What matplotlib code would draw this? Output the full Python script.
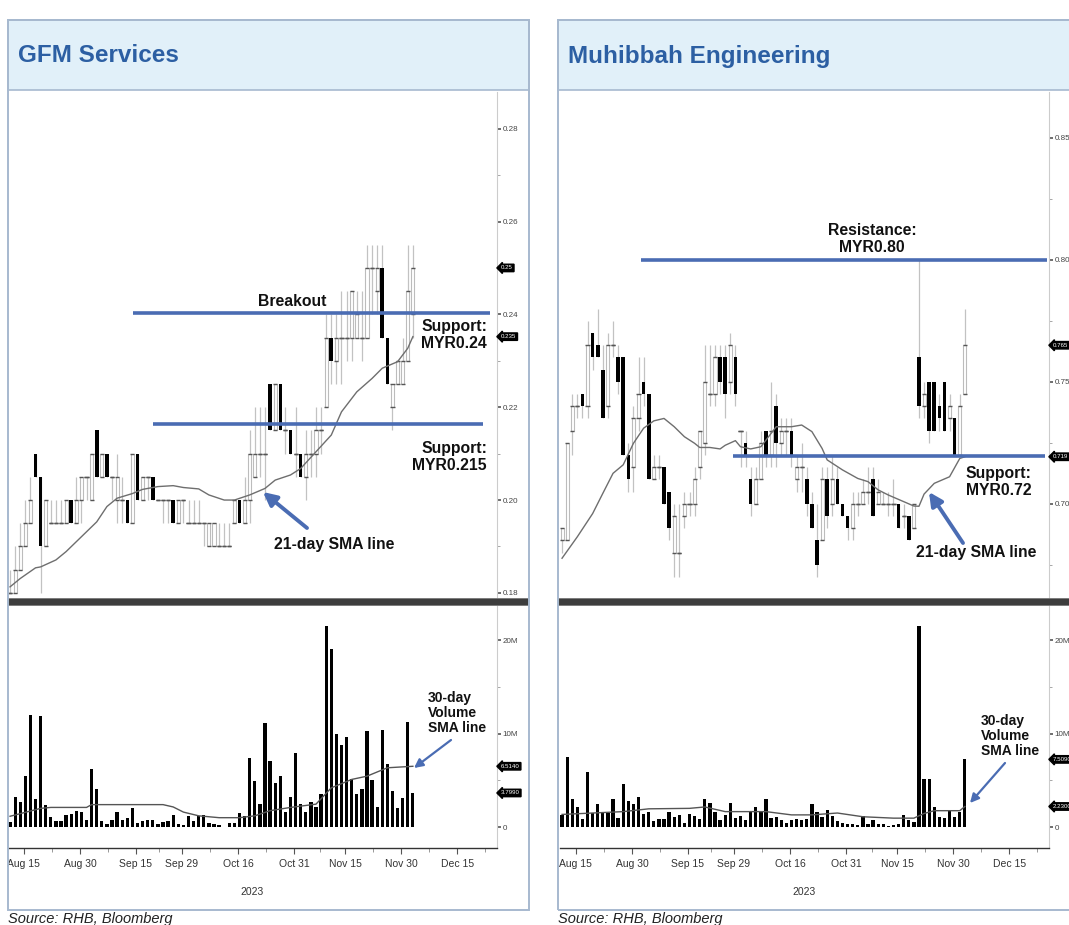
import numpy as np
import matplotlib
matplotlib.use("Agg")
import matplotlib.pyplot as plt
from matplotlib.patches import Rectangle, FancyArrowPatch
from matplotlib.ticker import FixedLocator, FuncFormatter
import matplotlib.transforms as mtransforms

# ---------------- data ----------------
date_labels = ['Aug 15', 'Aug 30', 'Sep 15', 'Sep 29', 'Oct 16', 'Oct 31', 'Nov 15', 'Nov 30', 'Dec 15']
date_index = [3, 14, 25, 34, 45, 56, 66, 77, 88]
year_label = '2023'

# GFM Services OHLC (80 trading days)
gfm_open = [.18, .18, .185, .19, .195, .21, .205, .19, .195, .195, .195, .195, .20, .195, .20, .205, .20, .215, .205, .21,
            .205, .20, .20, .20, .195, .21, .20, .205, .205, .20, .20, .20, .20, .195, .20, .195, .195, .195, .195, .19,
            .19, .19, .19, .19, .195, .20, .195, .20, .205, .21, .21, .225, .215, .225, .215, .215, .21, .21, .205, .21,
            .21, .215, .22, .235, .23, .235, .235, .235, .235, .235, .235, .25, .245, .25, .235, .22, .225, .225, .23, .24]
gfm_high = [.185, .19, .195, .20, .205, .21, .205, .20, .20, .20, .20, .20, .20, .205, .205, .205, .21, .215, .21, .21,
            .205, .21, .205, .20, .21, .21, .205, .205, .205, .20, .20, .20, .20, .20, .20, .20, .20, .20, .195, .195,
            .195, .195, .195, .195, .20, .20, .205, .215, .22, .22, .22, .225, .225, .225, .22, .215, .22, .21, .215, .215,
            .22, .22, .24, .24, .24, .245, .245, .245, .245, .245, .255, .255, .255, .255, .235, .225, .23, .235, .255, .255]
gfm_low = [.18, .18, .185, .19, .195, .205, .18, .19, .195, .195, .195, .195, .195, .195, .195, .20, .20, .205, .205, .205,
           .20, .195, .195, .195, .195, .20, .20, .20, .20, .20, .195, .195, .195, .195, .195, .195, .195, .195, .19, .19,
           .19, .19, .19, .19, .195, .195, .195, .195, .205, .205, .20, .215, .215, .215, .21, .21, .205, .205, .20, .205,
           .205, .21, .22, .225, .225, .225, .23, .23, .235, .23, .235, .24, .24, .235, .225, .215, .225, .225, .23, .235]
gfm_close = [.18, .185, .19, .195, .20, .205, .19, .20, .195, .195, .195, .20, .195, .20, .205, .205, .21, .205, .21, .205,
             .205, .205, .20, .195, .21, .20, .205, .205, .20, .20, .20, .20, .195, .20, .20, .195, .195, .195, .195, .195,
             .195, .19, .19, .19, .20, .195, .20, .21, .21, .21, .21, .215, .225, .215, .215, .21, .21, .205, .21, .21,
             .215, .215, .235, .23, .235, .235, .235, .245, .24, .235, .25, .25, .25, .235, .225, .225, .23, .23, .245, .25]
gfm_volume = [0.5, 3.2, 2.7, 5.5, 12.0, 3.0, 11.9, 2.4, 1.1, 0.65,
              0.65, 1.25, 1.35, 1.75, 1.6, 0.8, 6.2, 4.1, 0.65, 0.3,
              0.8, 1.65, 0.8, 0.95, 2.0, 0.4, 0.65, 0.8, 0.8, 0.3,
              0.55, 0.65, 1.25, 0.3, 0.2, 1.15, 0.65, 1.15, 1.25, 0.4,
              0.3, 0.2, 0.05, 0.4, 0.4, 1.5, 1.15, 7.4, 4.9, 2.5,
              11.1, 7.1, 4.7, 5.5, 1.65, 3.2, 7.9, 2.5, 1.65, 2.7,
              2.15, 3.55, 21.6, 19.1, 10.0, 8.8, 9.7, 5.1, 3.55, 4.1,
              10.25, 5.0, 2.15, 10.4, 6.75, 3.9, 2.0, 3.1, 11.3, 3.65]
gfm_sma_idx = [0, 2, 5, 6, 9, 11, 14, 17, 19, 21, 24, 26, 29, 32, 34, 37, 39, 42, 44, 47, 50, 52, 55, 57, 60, 63, 65, 68, 71, 73, 76, 78, 79]
gfm_sma = [0.1813, 0.1831, 0.1854, 0.1856, 0.1871, 0.1889, 0.1921, 0.1953, 0.1986, 0.2004, 0.2014, 0.2023, 0.2029, 0.2031,
           0.2027, 0.2024, 0.2011, 0.2000, 0.2000, 0.2011, 0.2025, 0.2043, 0.2054, 0.2068, 0.2104, 0.2140, 0.2190, 0.2233,
           0.2262, 0.2284, 0.2298, 0.2327, 0.2352]
gfm_vsma_idx = [0, 6, 8, 15, 16, 19, 30, 32, 34, 37, 41, 45, 48, 51, 55, 60, 63, 67, 70, 74, 79]
gfm_vsma = [1.15, 2.0, 2.1, 2.1, 2.4, 2.4, 2.4, 2.15, 1.6, 1.2, 1.0, 1.0, 1.2, 1.75, 2.1, 2.45, 4.2, 5.1, 5.45, 6.35, 6.51]
gfm_breakout = 0.2403
gfm_support = 0.2163
gfm_price_tags = ['0.25', '0.235']        # last close, last SMA
gfm_vol_tags = ['3.7990', '6.5140']       # last volume, last volume SMA

# Muhibbah Engineering OHLC (80 trading days)
muh_open = [.685, .685, .73, .74, .745, .74, .77, .765, .755, .74, .765, .76, .76, .72, .715, .735, .75, .745, .71, .715,
            .715, .705, .68, .68, .695, .70, .70, .715, .725, .745, .745, .76, .76, .75, .76, .73, .725, .71, .70, .71,
            .73, .72, .74, .725, .73, .73, .71, .715, .71, .70, .685, .685, .71, .70, .71, .70, .695, .69, .70, .70,
            .705, .71, .70, .70, .70, .70, .70, .695, .695, .69, .76, .74, .75, .75, .74, .75, .735, .735, .72, .745]
muh_high = [.69, .725, .745, .745, .745, .775, .77, .78, .765, .77, .775, .765, .76, .725, .74, .76, .76, .745, .72, .72,
            .715, .705, .70, .70, .705, .705, .715, .73, .765, .765, .765, .765, .765, .77, .765, .73, .73, .715, .715, .73,
            .73, .75, .745, .735, .735, .735, .72, .725, .715, .705, .70, .715, .715, .72, .715, .70, .695, .705, .705, .71,
            .715, .715, .71, .705, .705, .71, .70, .70, .695, .70, .80, .75, .75, .75, .745, .75, .745, .735, .745, .78]
muh_low = [.68, .685, .72, .735, .735, .735, .755, .76, .735, .735, .76, .745, .72, .705, .705, .73, .74, .71, .71, .71,
           .70, .685, .67, .67, .69, .695, .695, .71, .72, .74, .74, .745, .735, .745, .74, .715, .715, .695, .70, .71,
           .715, .715, .715, .72, .72, .715, .705, .705, .695, .69, .67, .685, .69, .695, .70, .695, .685, .685, .695, .70,
           .70, .695, .70, .70, .695, .695, .69, .69, .685, .69, .735, .735, .725, .73, .73, .73, .73, .72, .72, .745]
muh_close = [.69, .725, .74, .74, .74, .765, .76, .76, .735, .765, .765, .75, .72, .71, .735, .745, .745, .71, .715, .715,
             .70, .69, .695, .68, .70, .70, .71, .73, .75, .745, .76, .75, .745, .765, .745, .73, .72, .70, .71, .725,
             .72, .73, .725, .73, .73, .72, .715, .715, .70, .69, .675, .71, .695, .71, .70, .695, .69, .70, .70, .705,
             .705, .695, .705, .70, .70, .70, .69, .695, .685, .70, .74, .745, .73, .73, .735, .73, .74, .72, .74, .765]
muh_volume = [1.3, 7.5, 3.0, 2.1, 0.9, 5.9, 1.5, 2.5, 1.5, 1.5,
              3.0, 1.0, 4.6, 2.8, 2.5, 3.2, 1.4, 1.6, 0.6, 0.9,
              0.9, 1.6, 1.1, 1.3, 0.45, 1.4, 1.2, 0.9, 3.0, 2.6,
              1.65, 0.7, 1.3, 2.6, 1.0, 1.2, 0.7, 1.6, 2.15, 1.6,
              3.0, 1.0, 1.1, 0.7, 0.45, 0.7, 0.9, 0.75, 0.9, 2.5,
              1.65, 1.1, 1.8, 1.2, 0.6, 0.45, 0.3, 0.3, 0.2, 1.2,
              0.3, 0.7, 0.3, 0.35, 0.15, 0.2, 0.35, 1.3, 0.8, 0.5,
              21.6, 5.2, 5.2, 2.1, 1.1, 1.0, 1.75, 1.1, 1.65, 7.25]
muh_sma_idx = [0, 3, 6, 8, 10, 12, 14, 16, 18, 20, 22, 24, 26, 27, 29, 31, 32, 34, 35, 37, 39, 42, 45, 47, 49, 51, 52, 55,
               58, 60, 62, 64, 67, 69, 70, 71, 73, 76, 78, 79]
muh_sma = [0.6777, 0.6865, 0.6960, 0.7043, 0.7125, 0.7160, 0.7248, 0.7310, 0.7340, 0.7350, 0.7316, 0.7275, 0.7248, 0.7231,
           0.7231, 0.7225, 0.7240, 0.7259, 0.7234, 0.7225, 0.7234, 0.7316, 0.7316, 0.7323, 0.7296, 0.7227, 0.7180, 0.7139,
           0.7104, 0.7091, 0.7057, 0.7036, 0.7009, 0.6991, 0.6990, 0.7040, 0.7084, 0.7111, 0.7186, 0.7193]
muh_vsma_idx = [0, 6, 12, 17, 25, 28, 32, 36, 40, 45, 49, 54, 59, 65, 69, 71, 73, 78, 79]
muh_vsma = [1.35, 1.5, 1.65, 1.95, 2.0, 2.15, 1.65, 1.65, 1.65, 1.3, 1.3, 1.5, 1.1, 0.95, 0.95, 1.45, 1.75, 1.75, 2.2]
muh_resistance = 0.80
muh_support = 0.7196
muh_price_tags = ['0.765', '0.719']
muh_vol_tags = ['7.5090', '2.2300']

# ---------------- style ----------------
W, H = 1069, 925
BLUE = '#4a6cb3'
TITLE_BLUE = '#2c5fa3'
FRAME = '#a7b9cf'
ARIAL = ['Liberation Sans', 'DejaVu Sans']
NARROW = ['Liberation Sans Narrow', 'Liberation Sans', 'DejaVu Sans']
plt.rcParams['font.family'] = ARIAL


def fx(px):
    return px / W


def fy(py):
    return 1 - py / H


fig = plt.figure(figsize=(W / 100, H / 100), dpi=100)
fig.patch.set_facecolor('white')


def panel(x0, x1, title):
    fig.patches.append(Rectangle((fx(x0), fy(90)), fx(x1 - x0), 70 / H, transform=fig.transFigure,
                                 facecolor='#e1f0f9', edgecolor=FRAME, lw=1.2, zorder=0))
    fig.patches.append(Rectangle((fx(x0), fy(910)), fx(x1 - x0), 890 / H, transform=fig.transFigure,
                                 facecolor='none', edgecolor=FRAME, lw=1.4, zorder=5))
    fig.text(fx(x0 + 10), fy(56), title, color=TITLE_BLUE, fontsize=17.5, fontweight='bold',
             va='center', ha='left', family=ARIAL)
    fig.patches.append(Rectangle((fx(x0), fy(605)), fx(x1 - x0 - 1), 7 / H, transform=fig.transFigure,
                                 facecolor='#3d3d3d', edgecolor='#777777', lw=0.6, zorder=4))
    fig.text(fx(x0), fy(923), 'Source: RHB, Bloomberg', fontsize=10.5, style='italic',
             ha='left', va='baseline', color='#222222')


def candles(ax, o, h, l, c):
    o, h, l, c = map(np.asarray, (o, h, l, c))
    x = np.arange(len(o))
    ax.vlines(x, l, h, color='#c2c2c2', lw=0.9, zorder=2)
    up = c >= o
    dn = ~up
    ax.bar(x[up], (c - o)[up], bottom=o[up], width=0.6, facecolor='white', edgecolor='#bcbcbc',
           lw=0.8, zorder=3)
    ax.hlines(o[up], x[up] - 0.4, x[up] + 0.4, color='#555555', lw=1.0, zorder=4)
    ax.hlines(c[up], x[up] - 0.4, x[up] + 0.4, color='#555555', lw=1.0, zorder=4)
    ax.bar(x[dn], (o - c)[dn], bottom=c[dn], width=0.7, color='black', lw=0, zorder=4)


def tag(ax, val, txt):
    tr = mtransforms.blended_transform_factory(ax.transAxes, ax.transData)
    ax.text(1.008, val, txt, transform=tr, fontsize=4.4, color='white', ha='left', va='center',
            family=NARROW, clip_on=False, zorder=6,
            bbox=dict(boxstyle='larrow,pad=0.2', fc='black', ec='black'))


def style_yaxis(ax):
    ax.yaxis.tick_right()
    ax.tick_params(axis='y', which='major', length=3, width=1.2, color='#555555', pad=1,
                   labelsize=5.8, labelcolor='#444444')
    ax.tick_params(axis='y', which='minor', length=2, color='#999999')
    for lbl in ax.get_yticklabels():
        lbl.set_family(NARROW)


def price_axes(x0, ylim, major, minor, o, h, l, c, sma_i, sma_v, tags):
    ax = fig.add_axes([fx(x0), fy(598), fx(489), 506 / H])
    ax.set_facecolor('none')
    candles(ax, o, h, l, c)
    ax.plot(sma_i, sma_v, color='#6e6e6e', lw=1.0, zorder=5)
    ax.set_xlim(-0.4, 95.5)
    ax.set_ylim(*ylim)
    for s in ['left', 'top', 'bottom']:
        ax.spines[s].set_visible(False)
    ax.spines['right'].set_color('#cccccc')
    ax.set_xticks([])
    ax.yaxis.set_major_locator(FixedLocator(major))
    ax.yaxis.set_minor_locator(FixedLocator(minor))
    ax.yaxis.set_major_formatter(FuncFormatter(lambda v, p: '{:.2f}'.format(v)))
    style_yaxis(ax)
    tag(ax, c[-1], tags[0])
    tag(ax, sma_v[-1], tags[1])
    return ax


def volume_axes(x0, vol, vi, vv, tags):
    ax = fig.add_axes([fx(x0), fy(848), fx(489), 243 / H])
    ax.set_facecolor('none')
    x = np.arange(len(vol))
    ax.bar(x, vol, width=0.64, color='black', lw=0, zorder=3)
    ax.plot(vi, vv, color='#555555', lw=1.0, zorder=4)
    ax.set_xlim(-0.4, 95.5)
    ax.set_ylim(-2.25, 23.8)
    for s in ['left', 'top']:
        ax.spines[s].set_visible(False)
    ax.spines['right'].set_color('#cccccc')
    ax.spines['bottom'].set_color('#333333')
    ax.spines['bottom'].set_linewidth(1.0)
    ax.yaxis.set_major_locator(FixedLocator([0, 10, 20]))
    ax.yaxis.set_minor_locator(FixedLocator([5, 15]))
    ax.yaxis.set_major_formatter(FuncFormatter(lambda v, p: '0' if v == 0 else '%dM' % v))
    style_yaxis(ax)
    pos = [d - 0.3 for d in date_index]
    ax.set_xticks(pos)
    ax.set_xticklabels(date_labels)
    mids = [(pos[i] + pos[i + 1]) / 2 for i in range(len(pos) - 1)] + [pos[-1] + 5.5]
    ax.xaxis.set_minor_locator(FixedLocator(mids))
    ax.tick_params(axis='x', which='major', length=4, color='#555555', labelsize=7.5,
                   labelcolor='#333333', pad=4)
    ax.tick_params(axis='x', which='minor', length=3, color='#888888')
    for lbl in ax.get_xticklabels():
        lbl.set_family(NARROW)
    ax.annotate(year_label, xy=(47.5, 0), xycoords=('data', 'axes fraction'), xytext=(0, -32),
                textcoords='offset points', ha='center', va='center', fontsize=7.5,
                color='#333333', family=NARROW)
    tag(ax, vol[-1], tags[0])
    tag(ax, vv[-1], tags[1])
    return ax


def label(x, y, s, ha='center', size=11.3, ls=1.2):
    fig.text(fx(x), fy(y), s, fontsize=size, fontweight='bold', ha=ha, va='center',
             linespacing=ls, color='#111111', family=ARIAL, zorder=7)


def arrow(x0, y0, x1, y1, lw=2.8, ms=20):
    fig.patches.append(FancyArrowPatch((fx(x0), fy(y0)), (fx(x1), fy(y1)), transform=fig.transFigure,
                                       arrowstyle='-|>', mutation_scale=ms, lw=lw, color=BLUE,
                                       shrinkA=0, shrinkB=0, zorder=7))


# ---------------- left panel: GFM Services ----------------
panel(8, 529, 'GFM Services')
axL = price_axes(8, (0.1789, 0.2879), [0.18, 0.20, 0.22, 0.24, 0.26, 0.28],
                 [0.19, 0.21, 0.23, 0.25, 0.27],
                 gfm_open, gfm_high, gfm_low, gfm_close, gfm_sma_idx, gfm_sma, gfm_price_tags)
axL.hlines(gfm_breakout, 24.1, 94.1, color=BLUE, lw=2.6, zorder=6)
axL.hlines(gfm_support, 28.0, 92.7, color=BLUE, lw=2.6, zorder=6)
volume_axes(8, gfm_volume, gfm_vsma_idx, gfm_vsma, gfm_vol_tags)

label(292, 301, 'Breakout')
label(487, 335, 'Support:\nMYR0.24', ha='right')
label(487, 457, 'Support:\nMYR0.215', ha='right')
label(334, 544, '21-day SMA line')
arrow(307, 528, 263, 492)
label(428, 713, '30-day\nVolume\nSMA line', ha='left', size=10, ls=1.1)
arrow(451, 740, 414, 768, lw=1.6, ms=13)

# ---------------- right panel: Muhibbah Engineering ----------------
panel(558, 1080, 'Muhibbah Engineering')
axR = price_axes(560, (0.6614, 0.8688), [0.70, 0.75, 0.80, 0.85],
                 [0.675, 0.725, 0.775, 0.825],
                 muh_open, muh_high, muh_low, muh_close, muh_sma_idx, muh_sma, muh_price_tags)
axR.hlines(muh_resistance, 15.5, 95.1, color=BLUE, lw=2.6, zorder=6)
axR.hlines(muh_support, 33.5, 94.7, color=BLUE, lw=2.6, zorder=6)
volume_axes(560, muh_volume, muh_vsma_idx, muh_vsma, muh_vol_tags)

label(872, 239, 'Resistance:\nMYR0.80')
label(966, 482, 'Support:\nMYR0.72', ha='left')
label(976, 553, '21-day SMA line')
arrow(963, 543, 929, 492)
label(981, 736, '30-day\nVolume\nSMA line', ha='left', size=10, ls=1.1)
arrow(1005, 763, 970, 803, lw=1.6, ms=13)

fig.savefig('out.png', dpi=100, facecolor='white')
